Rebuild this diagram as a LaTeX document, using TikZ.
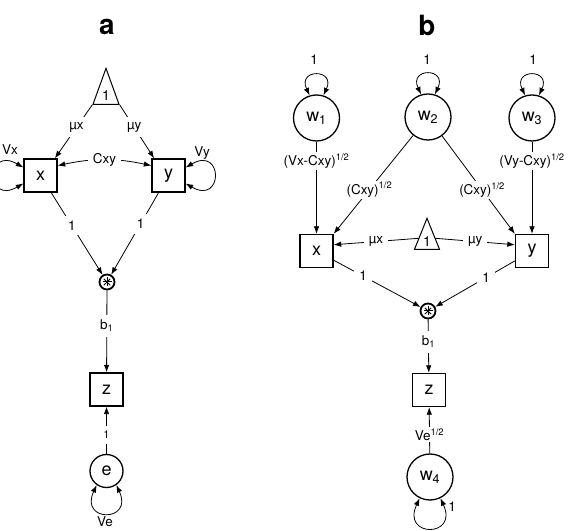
\documentclass[tikz,border=0pt]{standalone}
\usepackage{fontspec}
\setmainfont{TeX Gyre Heros}
\usetikzlibrary{shapes.geometric, calc, arrows.meta}
\tikzset{>={Latex[length=7.5bp, width=5.5bp]}}
\tikzset{
    obs/.style={draw, line width=1.3bp, minimum size=33bp, inner sep=0pt, font=\fontsize{18}{20}\selectfont},
    lat/.style={circle, draw, line width=1.3bp, minimum size=46bp, inner sep=0pt, font=\fontsize{18}{20}\selectfont},
    res/.style={lat, minimum size=33bp},
    prod/.style={circle, draw, line width=1.8bp, minimum size=15bp, inner sep=0pt,
        path picture={\foreach \a in {0,45,...,315} \draw[line width=1bp] (path picture bounding box.center) -- ++(\a:4.5bp);}},
    one/.style={isosceles triangle, isosceles triangle stretches, shape border rotate=90, draw, line width=1bp, inner sep=0pt, font=\fontsize{14}{16}\selectfont},
    lab/.style={fill=white, inner sep=5bp, font=\fontsize{13.5}{15}\selectfont},
    tight/.style={lab, inner sep=1.5bp},
    title/.style={font=\fontsize{28}{30}\bfseries\selectfont},
}

\begin{document}
\begin{tikzpicture}[x=10bp, y=10bp, line width=0.8bp]
    \useasboundingbox (0,0) rectangle (57,53.1);

    % a
    \node[title] (ta) at (10.7,50.4) {a};
    \node[one, minimum width=26bp, minimum height=36bp, anchor=apex] (k1) at (10.6,46.4) {1};
    \node[obs] (x1) at (4.05,35.55) {x};
    \node[obs] (y1) at (16.85,35.55) {y};
    \node[prod] (p1) at (10.7,24.9) {};
    \node[obs] (z1) at (10.65,14.15) {z};
    \node[res] (e) at (10.65,6.0) {e};
    \node[lab, fill=none, inner sep=0pt] (vx) at (1.0,38.1) {Vx};
    \node[lab, fill=none, inner sep=0pt] (vy) at (20.2,37.8) {Vy};
    \node[lab, fill=none, inner sep=0pt] (ve) at (10.5,0.9) {Ve};

    \draw[->] (k1.left corner) -- node[lab, pos=0.42]{µx} (x1.50);
    \draw[->] (k1.right corner) -- node[lab, pos=0.42]{µy} (y1.130);
    \draw[<->] (x1.30) to[bend left=12] node[lab]{Cxy} (y1.150);
    \draw[<->] (x1.155) to[out=150, in=210, looseness=7] (x1.205);
    \draw[<->] (y1.25) to[out=30, in=-30, looseness=7] (y1.-25);
    \draw[->] (x1) -- node[lab, pos=0.4]{1} (p1);
    \draw[->] (y1) -- node[lab, pos=0.38]{1} (p1);
    \draw[->] (p1) -- node[lab, pos=0.43]{b\textsubscript{1}} (z1);
    \draw[->] (e) -- node[lab, pos=0.4, font=\fontsize{11}{12}\selectfont]{1} (z1);
    \draw[<->] (e.235) to[out=245, in=295, looseness=5.4] (e.305);

    % b
    \node[title] (tb) at (42.7,50.6) {b};
    \node[lat] (w1) at (31.65,41.3) {w\textsubscript{1}};
    \node[lat] (w2) at (42.8,41.4) {w\textsubscript{2}};
    \node[lat] (w3) at (53.2,41.3) {w\textsubscript{3}};
    \node[one, minimum width=25bp, minimum height=31bp, anchor=apex] (k2) at (42.7,31.4) {1};
    \node[obs] (x2) at (31.65,28.0) {x};
    \node[obs] (y2) at (53.2,28.0) {y};
    \node[prod] (p2) at (42.8,22.0) {};
    \node[obs] (z2) at (42.9,14.1) {z};
    \node[lat] (w4) at (43.0,5.4) {w\textsubscript{4}};
    \node[lab, fill=none, inner sep=0pt] (v1) at (31.4,47.1) {1};
    \node[lab, fill=none, inner sep=0pt] (v2) at (42.7,47.1) {1};
    \node[lab, fill=none, inner sep=0pt] (v3) at (53.3,47.1) {1};
    \node[lab, fill=none, inner sep=0pt] (v4) at (45.2,2.4) {1};

    \draw[<->] (w1.107) to[out=115, in=65, looseness=5.5] (w1.73);
    \draw[<->] (w2.107) to[out=115, in=65, looseness=5.5] (w2.73);
    \draw[<->] (w3.107) to[out=115, in=65, looseness=5.5] (w3.73);
    \draw[<->] (w4.244) to[out=245, in=295, looseness=5.4] (w4.296);
    \draw[->] (w1) -- node[tight, pos=0.21]{(Vx-Cxy)\textsuperscript{1/2}} (x2);
    \draw[->] (w3) -- node[tight, pos=0.21]{(Vy-Cxy)\textsuperscript{1/2}} (y2);
    \draw[->] (w2) -- node[tight, pos=0.55]{(Cxy)\textsuperscript{1/2}} (x2.north east);
    \draw[->] (w2) -- node[tight, pos=0.55]{(Cxy)\textsuperscript{1/2}} (y2.north west);
    \draw[->] ($(k2.left corner)!0.35!(k2.apex)$) -- node[lab]{µx} (x2.20);
    \draw[->] ($(k2.right corner)!0.35!(k2.apex)$) -- node[lab]{µy} (y2.160);
    \draw[->] (x2) -- node[lab, pos=0.34]{1} (p2);
    \draw[->] (y2) -- node[lab, pos=0.36]{1} (p2);
    \draw[->] (p2) -- node[lab, pos=0.42]{b\textsubscript{1}} (z2);
    \draw[->] (w4) -- node[tight, pos=0.41]{Ve\textsuperscript{1/2}} (z2);
\end{tikzpicture}
\end{document}
